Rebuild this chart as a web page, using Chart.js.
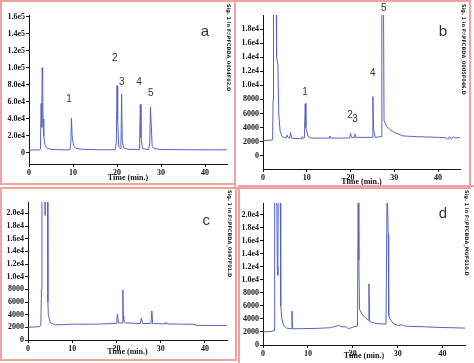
<!DOCTYPE html>
<html lang="en">
<head>
<meta charset="UTF-8" />
<title>Chromatograms a-d</title>
<script src="https://cdn.jsdelivr.net/npm/chart.js@4"></script>
<style>
  body { margin: 0; background: #fff; }
  #page { position: relative; width: 474px; height: 363px; overflow: hidden; background: #fff; }
  #page canvas { position: absolute; }
  .frame { position: absolute; box-sizing: border-box; border: 2px solid #f3a2a2; pointer-events: none; }
</style>
</head>
<body>
<div id="page">
  <canvas id="chartA" width="232" height="181" style="left:2px;top:2px"></canvas>
  <canvas id="chartB" width="233" height="186" style="left:236px;top:2px"></canvas>
  <canvas id="chartC" width="233" height="170" style="left:2px;top:189px"></canvas>
  <canvas id="chartD" width="234" height="176" style="left:240px;top:187px"></canvas>

  <div class="frame" style="left:0;top:0;width:236px;height:185px"></div>
  <div class="frame" style="left:234px;top:0;width:237px;height:189px"></div>
  <div class="frame" style="left:0;top:187px;width:237px;height:174px"></div>
  <div class="frame" style="left:238px;top:185px;width:250px;height:200px"></div>
</div>

<script>
// x axis (retention time, min)
const xTicks = [0, 10, 20, 30, 40];

// --- chromatogram a ---
const timeA = [0, 2.4, 2.6, 2.75, 2.9, 3.0, 3.1, 3.2, 3.35, 3.6, 4.0, 5.0, 8.0, 9.3, 9.5, 9.65, 9.8, 10.1, 10.6, 12, 16, 19.6, 19.85, 20.0, 20.15, 20.4, 20.8, 20.9, 21.05, 21.2, 21.5, 22.5, 25.0, 25.15, 25.3, 25.45, 25.8, 27.2, 27.45, 27.6, 27.75, 28.0, 28.6, 30, 36, 45];
const signalA = [3400, 3600, 4500, 58000, 30000, 100000, 87000, 40000, 20000, 10000, 6000, 4200, 3600, 3800, 12000, 41000, 20000, 9000, 5500, 4300, 3700, 3700, 12000, 79000, 40000, 7000, 5000, 12000, 69000, 14000, 6000, 4300, 3800, 15000, 57000, 18000, 5000, 4000, 12000, 54000, 37000, 7000, 5000, 4000, 3700, 3600];
const yTicksA = [0, 20000, 40000, 60000, 80000, 100000, 120000, 140000, 160000];
const yLabelsA = ['0', '2.0e4', '4.0e4', '6.0e4', '8.0e4', '1.0e5', '1.2e5', '1.4e5', '1.6e5'];
const peakNamesA = ['1', '2', '3', '4', '5'];
const peakTimesA = [9.1, 19.5, 21.1, 25.0, 27.7];
const peakHeightsA = [63300, 111500, 83300, 83300, 70400];

// --- chromatogram b ---
const timeB = [0, 2.2, 2.3, 2.4, 3.0, 3.1, 3.4, 3.6, 3.9, 4.4, 5.2, 5.5, 5.8, 6.1, 6.3, 6.5, 8.8, 9.0, 9.2, 9.45, 9.65, 9.8, 10.3, 11, 15.1, 15.3, 15.5, 19.8, 20.0, 20.2, 20.8, 21.0, 21.2, 24.9, 25.1, 25.25, 25.6, 27.0, 27.15, 27.5, 27.65, 28.2, 29, 30, 32, 35, 40, 41.8, 42.2, 42.6, 43, 43.5, 44, 45];
const signalB = [2100, 2250, 8000, 25000, 25000, 14000, 13000, 6000, 3500, 2700, 2500, 2900, 2500, 2500, 3300, 2500, 2400, 2700, 2400, 2500, 7400, 4000, 2700, 2500, 2500, 2800, 2500, 2500, 3200, 2600, 2600, 3100, 2600, 2600, 8400, 3800, 2600, 2700, 25000, 25000, 5000, 4200, 3700, 3300, 2800, 2700, 2600, 2550, 2300, 2700, 2350, 2700, 2500, 2600];
const yTicksB = [0, 2000, 4000, 6000, 8000, 10000, 12000, 14000, 16000, 18000];
const yLabelsB = ['0', '2000', '4000', '6000', '8000', '1.0e4', '1.2e4', '1.4e4', '1.6e4', '1.8e4'];
const peakNamesB = ['1', '2', '3', '4', '5'];
const peakTimesB = [9.6, 19.9, 21.0, 25.1, 27.6];
const peakHeightsB = [9050, 5780, 5200, 11750, 21000];

// --- chromatogram c ---
const timeC = [0, 2.5, 2.9, 3.05, 3.15, 3.8, 3.85, 3.9, 4.4, 4.5, 4.6, 5.0, 6.0, 7.0, 10, 15, 17, 19.9, 20.1, 20.25, 20.45, 21.3, 21.45, 21.55, 21.65, 22.0, 25.4, 25.65, 25.9, 27.8, 28.0, 28.2, 31, 31.2, 31.4, 35, 37.5, 38.2, 45];
const signalC = [2000, 2100, 2300, 8000, 24000, 24000, 19700, 24000, 24000, 6000, 4000, 2800, 2400, 2400, 2500, 2500, 2550, 2600, 3500, 4100, 2700, 2700, 7900, 3800, 3000, 2700, 2600, 3500, 2600, 2600, 4600, 2600, 2550, 2800, 2550, 2500, 2500, 2300, 2300];
const yTicksCD = [0, 2000, 4000, 6000, 8000, 10000, 12000, 14000, 16000, 18000, 20000];
const yLabelsCD = ['0', '2000', '4000', '6000', '8000', '1.0e4', '1.2e4', '1.4e4', '1.6e4', '1.8e4', '2.0e4'];

// --- chromatogram d ---
const timeD = [0, 2.0, 2.5, 2.6, 3.05, 3.2, 3.3, 3.4, 3.85, 3.95, 4.2, 4.6, 5.2, 6.3, 6.45, 6.6, 8, 12, 15, 16.8, 17.5, 18.5, 19.0, 20.5, 21.05, 21.2, 21.35, 21.5, 22.2, 23.2, 23.45, 23.6, 23.75, 25, 27.4, 27.65, 27.9, 28.0, 28.3, 29, 30, 31, 31.5, 33, 36, 39, 45];
const signalD = [2000, 2100, 2200, 24000, 24000, 12000, 10700, 24000, 24000, 6000, 4000, 3000, 2600, 2500, 5200, 2500, 2500, 2550, 2650, 3000, 2800, 2800, 2500, 2850, 2900, 24000, 13000, 5500, 4600, 4000, 3800, 9400, 3600, 3300, 3200, 24000, 17000, 4500, 4000, 3300, 3000, 3100, 2900, 2850, 2800, 2700, 2600];

const tickFont = { family: '"Liberation Serif", "Times New Roman", serif', size: 8, weight: 'bold' };
const inkColor = '#151515';
const traceColor = '#5563c0';

// peak numbers, panel letter and the small rotated file name
const notesPlugin = {
  id: 'notes',
  afterDraw(chart, args, opts) {
    const ctx = chart.ctx, xs = chart.scales.x, ys = chart.scales.y;
    ctx.save();
    ctx.fillStyle = '#333';
    ctx.textAlign = 'center';
    ctx.textBaseline = 'middle';
    ctx.font = '10px "Liberation Sans", Arial, sans-serif';
    opts.names.forEach((n, i) => {
      ctx.fillText(n, xs.getPixelForValue(opts.times[i]), ys.getPixelForValue(opts.heights[i]));
    });
    ctx.font = '15px "Liberation Sans", Arial, sans-serif';
    ctx.fillText(opts.letter, xs.getPixelForValue(opts.letterAt[0]), ys.getPixelForValue(opts.letterAt[1]));
    ctx.translate(opts.fileX, opts.fileY);
    ctx.rotate(Math.PI / 2);
    ctx.font = 'bold 5px "DejaVu Sans", sans-serif';
    ctx.textAlign = 'left';
    ctx.fillStyle = '#222';
    ctx.fillText(opts.file, 0, 0);
    ctx.restore();
  }
};

// box = canvas rect, area = wanted plot area, both in page pixels
function makeChromatogram(id, times, signal, yTicks, yLabels, yMin, yMax, box, area, titlePad, notes) {
  const pts = times.map((t, i) => ({ x: t, y: signal[i] }));
  return new Chart(document.getElementById(id), {
    type: 'scatter',
    data: {
      datasets: [{
        data: pts,
        showLine: true,
        borderColor: traceColor,
        borderWidth: 1,
        pointRadius: 0,
        tension: 0
      }]
    },
    options: {
      responsive: false,
      animation: false,
      layout: { padding: { left: 0, top: area.t - box.t, right: box.l + box.w - area.r, bottom: 0 } },
      plugins: { legend: { display: false }, tooltip: { enabled: false }, notes: notes },
      scales: {
        x: {
          type: 'linear', min: 0, max: 45,
          afterBuildTicks: s => { s.ticks = xTicks.map(v => ({ value: v })); },
          afterFit: s => { s.height = box.t + box.h - area.b; },
          grid: { drawOnChartArea: false, tickLength: 3, color: inkColor },
          border: { color: inkColor },
          ticks: { color: inkColor, font: tickFont, padding: 1, maxRotation: 0, autoSkip: false },
          title: { display: true, text: 'Time (min.)', font: tickFont, color: inkColor, padding: { top: 0, bottom: titlePad } }
        },
        y: {
          type: 'linear', min: yMin, max: yMax,
          afterBuildTicks: s => { s.ticks = yTicks.map(v => ({ value: v })); },
          afterFit: s => { s.width = area.l - box.l; },
          grid: { drawOnChartArea: false, tickLength: 3, color: inkColor },
          border: { color: inkColor },
          ticks: { color: inkColor, font: tickFont, padding: 1, autoSkip: false, callback: (v, i) => yLabels[i] }
        }
      }
    },
    plugins: [notesPlugin]
  });
}

makeChromatogram('chartA', timeA, signalA, yTicksA, yLabelsA, -13000, 162000,
  { l: 2, t: 2, w: 232, h: 181 }, { l: 29, r: 227, t: 15, b: 164 }, 0,
  { names: peakNamesA, times: peakTimesA, heights: peakHeightsA, letter: 'a', letterAt: [40, 142000],
    file: 'Sig. 1 in F:\\PFCBDA_0004F02.D', fileX: 226, fileY: 2 });

makeChromatogram('chartB', timeB, signalB, yTicksB, yLabelsB, -1900, 20000,
  { l: 236, t: 2, w: 233, h: 186 }, { l: 263, r: 460, t: 15, b: 169 }, 1,
  { names: peakNamesB, times: peakTimesB, heights: peakHeightsB, letter: 'b', letterAt: [41.1, 17600],
    file: 'Sig. 1 in F:\\PFCBDA_0005F046.D', fileX: 227, fileY: 2 });

makeChromatogram('chartC', timeC, signalC, yTicksCD, yLabelsCD, 0, 21800,
  { l: 2, t: 189, w: 233, h: 170 }, { l: 28, r: 227, t: 202, b: 340 }, 2,
  { names: [], times: [], heights: [], letter: 'c', letterAt: [40.3, 18800],
    file: 'Sig. 1 in F:\\PFCBDA_0047F01.D', fileX: 227, fileY: 1 });

makeChromatogram('chartD', timeD, signalD, yTicksCD, yLabelsCD, 0, 21800,
  { l: 240, t: 187, w: 234, h: 176 }, { l: 263, r: 465, t: 203, b: 345 }, 2,
  { names: [], times: [], heights: [], letter: 'd', letterAt: [40.1, 20100],
    file: 'Sig. 1 in F:\\PFCBDA_MUF010.D', fileX: 226, fileY: 3 });
</script>
</body>
</html>
